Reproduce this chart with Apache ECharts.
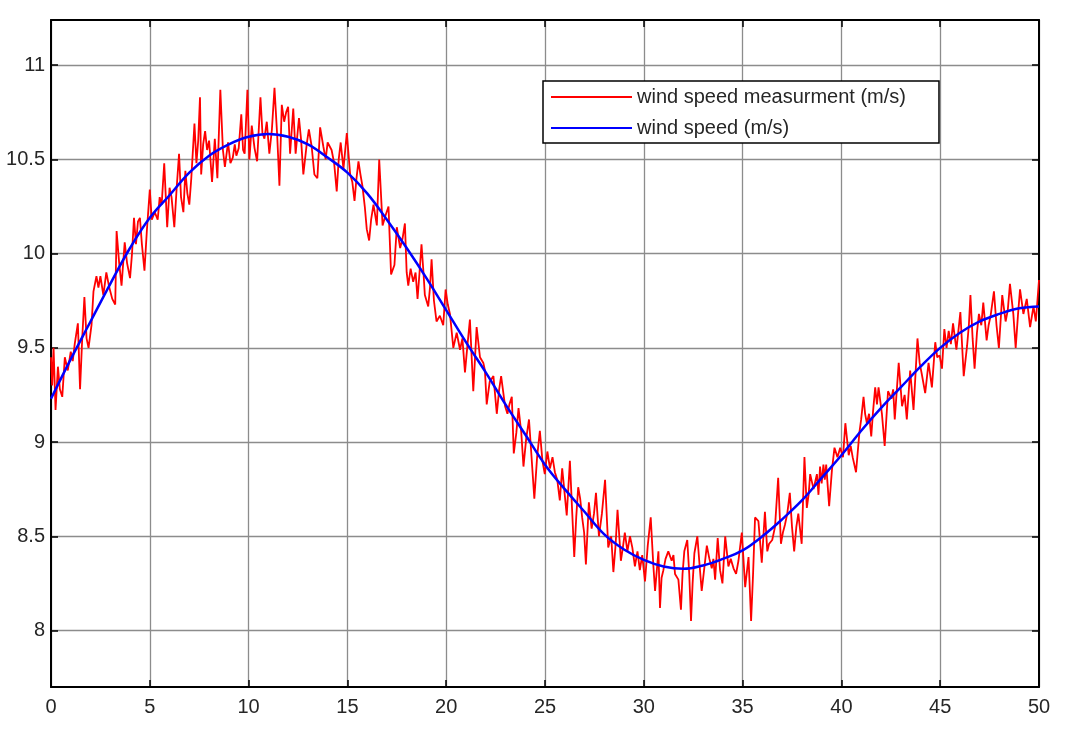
<!DOCTYPE html>
<html>
<head>
<meta charset="utf-8">
<script src="https://cdn.jsdelivr.net/npm/echarts/dist/echarts.min.js"></script>
<style>
  html, body { margin: 0; padding: 0; background: #ffffff; }
  #chart { width: 1080px; height: 731px; }
</style>
</head>
<body>
<div id="chart"></div>
<script>
// ---- data ----
const xTicks = [0, 5, 10, 15, 20, 25, 30, 35, 40, 45, 50];
const yTicks = [8, 8.5, 9, 9.5, 10, 10.5, 11];
const seriesNames = ['wind speed measurment (m/s)', 'wind speed (m/s)'];

// smooth wind speed (blue), sampled at every second
const blueTime = [0,1,2,3,4,5,6,7,8,9,10,11,12,13,14,15,16,17,18,19,20,21,22,23,24,25,
  26,27,28,29,30,31,32,33,34,35,36,37,38,39,40,41,42,43,44,45,46,47,48,49,50];
const blueSpeed = [9.23,9.44,9.64,9.84,10.03,10.19,10.31,10.43,10.52,10.58,10.62,10.635,10.62,
  10.58,10.51,10.43,10.32,10.18,10.03,9.87,9.70,9.53,9.37,9.20,9.04,8.88,8.75,8.63,8.51,8.43,
  8.375,8.34,8.327,8.345,8.38,8.425,8.50,8.59,8.69,8.81,8.93,9.06,9.18,9.29,9.40,9.50,9.58,
  9.64,9.68,9.71,9.72];

const measuredPoints = [
  [0,9.45],[0.06,9.30],[0.13,9.50],[0.23,9.17],[0.35,9.40],[0.45,9.28],[0.57,9.24],[0.7,9.45],[0.85,9.38],[1.0,9.48],
  [1.1,9.43],[1.2,9.52],[1.36,9.63],[1.47,9.28],[1.58,9.55],[1.69,9.77],[1.8,9.55],[1.9,9.50],[2.05,9.62],[2.15,9.80],
  [2.3,9.88],[2.4,9.82],[2.5,9.88],[2.65,9.78],[2.8,9.90],[2.95,9.82],[3.1,9.76],[3.25,9.73],[3.32,10.12],[3.45,9.95],
  [3.57,9.83],[3.73,10.06],[3.85,9.95],[4.0,9.87],[4.1,10.00],[4.2,10.19],[4.3,10.05],[4.4,10.17],[4.5,10.19],[4.6,10.05],
  [4.73,9.91],[4.85,10.12],[5.0,10.34],[5.1,10.18],[5.25,10.22],[5.4,10.18],[5.5,10.30],[5.6,10.26],[5.73,10.48],[5.88,10.14],
  [6.0,10.35],[6.1,10.30],[6.24,10.14],[6.36,10.35],[6.48,10.53],[6.58,10.30],[6.7,10.22],[6.8,10.44],[6.9,10.32],[7.0,10.26],
  [7.1,10.40],[7.26,10.69],[7.36,10.48],[7.45,10.60],[7.54,10.83],[7.6,10.42],[7.7,10.58],[7.8,10.65],[7.9,10.55],[8.0,10.60],
  [8.15,10.38],[8.29,10.61],[8.42,10.40],[8.57,10.87],[8.7,10.55],[8.8,10.46],[8.96,10.59],[9.08,10.48],[9.2,10.51],[9.3,10.58],
  [9.38,10.52],[9.5,10.56],[9.63,10.74],[9.72,10.55],[9.8,10.53],[9.94,10.87],[10.04,10.50],[10.16,10.68],[10.3,10.56],[10.43,10.49],
  [10.6,10.83],[10.7,10.64],[10.8,10.61],[10.92,10.70],[11.05,10.53],[11.18,10.66],[11.31,10.88],[11.45,10.62],[11.56,10.36],[11.68,10.79],
  [11.8,10.70],[11.9,10.75],[12.0,10.78],[12.1,10.53],[12.26,10.77],[12.38,10.53],[12.55,10.72],[12.66,10.60],[12.77,10.42],[12.94,10.58],
  [13.05,10.66],[13.19,10.57],[13.33,10.42],[13.48,10.40],[13.62,10.67],[13.78,10.57],[13.9,10.50],[14.0,10.59],[14.2,10.55],[14.33,10.48],
  [14.46,10.33],[14.56,10.50],[14.66,10.59],[14.8,10.45],[14.97,10.64],[15.14,10.42],[15.25,10.38],[15.36,10.28],[15.46,10.40],[15.56,10.49],
  [15.66,10.42],[15.76,10.36],[15.88,10.25],[15.98,10.13],[16.1,10.07],[16.2,10.18],[16.32,10.26],[16.49,10.15],[16.61,10.50],[16.78,10.15],
  [16.92,10.20],[17.08,10.25],[17.21,9.89],[17.38,9.94],[17.5,10.14],[17.67,10.03],[17.79,10.08],[17.91,10.16],[18.0,9.90],[18.08,9.83],
  [18.2,9.92],[18.33,9.85],[18.45,9.90],[18.55,9.76],[18.65,9.90],[18.75,10.05],[18.85,9.90],[18.92,9.78],[19.09,9.72],[19.18,9.82],
  [19.26,9.97],[19.38,9.75],[19.51,9.64],[19.68,9.67],[19.85,9.62],[19.97,9.81],[20.08,9.73],[20.19,9.68],[20.36,9.50],[20.53,9.58],
  [20.7,9.49],[20.82,9.55],[20.95,9.37],[21.08,9.52],[21.2,9.65],[21.37,9.27],[21.54,9.61],[21.71,9.45],[21.88,9.42],[21.96,9.38],
  [22.05,9.20],[22.2,9.32],[22.39,9.35],[22.56,9.15],[22.68,9.28],[22.78,9.35],[22.98,9.19],[23.1,9.15],[23.2,9.20],[23.32,9.24],
  [23.42,8.94],[23.55,9.05],[23.66,9.18],[23.8,9.05],[23.91,8.87],[24.05,9.02],[24.19,9.12],[24.3,8.95],[24.46,8.70],[24.6,8.92],
  [24.74,9.06],[24.87,8.90],[24.99,8.83],[25.12,8.95],[25.25,8.86],[25.38,8.92],[25.5,8.84],[25.62,8.80],[25.75,8.69],[25.87,8.86],
  [26.0,8.72],[26.1,8.61],[26.26,8.90],[26.38,8.62],[26.48,8.39],[26.58,8.60],[26.68,8.76],[26.78,8.70],[26.88,8.60],[26.98,8.52],
  [27.07,8.35],[27.22,8.68],[27.36,8.54],[27.48,8.62],[27.58,8.73],[27.73,8.50],[27.88,8.62],[28.04,8.80],[28.2,8.44],[28.35,8.50],
  [28.46,8.31],[28.57,8.45],[28.67,8.64],[28.76,8.50],[28.84,8.37],[28.94,8.44],[29.04,8.52],[29.17,8.42],[29.3,8.50],[29.42,8.44],
  [29.55,8.34],[29.68,8.42],[29.8,8.32],[29.92,8.40],[30.06,8.26],[30.2,8.45],[30.35,8.60],[30.48,8.35],[30.57,8.21],[30.74,8.42],
  [30.82,8.12],[30.9,8.28],[30.99,8.32],[31.1,8.38],[31.24,8.42],[31.41,8.37],[31.5,8.40],[31.58,8.30],[31.75,8.27],[31.88,8.11],
  [31.96,8.30],[32.05,8.42],[32.2,8.48],[32.3,8.30],[32.39,8.05],[32.47,8.25],[32.56,8.41],[32.71,8.50],[32.82,8.35],[32.93,8.21],
  [33.05,8.32],[33.19,8.45],[33.32,8.38],[33.44,8.33],[33.52,8.38],[33.61,8.27],[33.74,8.49],[33.86,8.32],[33.98,8.25],[34.12,8.50],
  [34.28,8.34],[34.4,8.38],[34.54,8.33],[34.67,8.30],[34.79,8.37],[34.96,8.52],[35.13,8.23],[35.3,8.39],[35.43,8.05],[35.53,8.30],
  [35.63,8.60],[35.8,8.58],[35.97,8.36],[36.13,8.63],[36.25,8.42],[36.34,8.46],[36.5,8.48],[36.64,8.55],[36.8,8.81],[36.94,8.46],
  [37.04,8.52],[37.14,8.56],[37.26,8.62],[37.39,8.73],[37.5,8.55],[37.61,8.42],[37.72,8.55],[37.82,8.62],[37.99,8.46],[38.13,8.92],
  [38.25,8.65],[38.34,8.72],[38.42,8.83],[38.59,8.75],[38.76,8.83],[38.84,8.72],[38.92,8.87],[39.0,8.78],[39.09,8.88],[39.16,8.80],
  [39.23,8.88],[39.38,8.66],[39.52,8.85],[39.65,8.97],[39.8,8.92],[39.94,8.97],[40.08,8.92],[40.2,9.10],[40.37,8.93],[40.47,8.98],
  [40.57,8.92],[40.74,8.84],[40.91,9.05],[41.0,9.12],[41.12,9.24],[41.2,9.15],[41.29,9.10],[41.4,9.15],[41.51,9.03],[41.6,9.16],
  [41.71,9.29],[41.8,9.20],[41.88,9.29],[42.05,9.15],[42.19,8.98],[42.36,9.27],[42.53,9.23],[42.62,9.28],[42.7,9.12],[42.9,9.42],
  [43.07,9.19],[43.2,9.25],[43.31,9.12],[43.48,9.38],[43.56,9.28],[43.65,9.17],[43.85,9.55],[43.96,9.42],[44.07,9.36],[44.24,9.26],
  [44.41,9.42],[44.58,9.29],[44.75,9.53],[44.85,9.45],[44.97,9.46],[45.09,9.39],[45.21,9.60],[45.32,9.50],[45.43,9.59],[45.54,9.52],
  [45.65,9.63],[45.82,9.49],[46.02,9.69],[46.19,9.35],[46.36,9.51],[46.45,9.62],[46.53,9.78],[46.64,9.55],[46.74,9.39],[46.86,9.58],
  [46.96,9.68],[47.08,9.62],[47.18,9.74],[47.35,9.54],[47.45,9.62],[47.55,9.67],[47.72,9.80],[47.85,9.62],[47.97,9.50],[48.14,9.78],
  [48.31,9.64],[48.42,9.70],[48.53,9.84],[48.7,9.68],[48.82,9.50],[48.94,9.68],[49.04,9.81],[49.21,9.68],[49.38,9.76],[49.55,9.61],
  [49.72,9.72],[49.84,9.64],[50.0,9.86]
];

// ---- chart ----
const FONT = "'Liberation Sans', Arial, Helvetica, sans-serif";
const TEXT_COLOR = '#262626';
const GRID_COLOR = '#8c8c8c';

const blueData = blueTime.map((t, i) => [t, blueSpeed[i]]);

const frameLine = { show: true, onZero: false, lineStyle: { color: '#000', width: 2 } };
const innerTick = { show: true, inside: true, length: 7, lineStyle: { color: '#000', width: 1.5 } };

const chart = echarts.init(document.getElementById('chart'), null, { renderer: 'canvas' });
chart.setOption({
  animation: false,
  backgroundColor: '#ffffff',
  grid: { left: 51, right: 41, top: 20, bottom: 44, outerBoundsMode: 'none' },
  legend: {
    orient: 'vertical',
    left: 543,
    top: 81,
    itemWidth: 81,
    itemHeight: 2,
    itemGap: 11,
    padding: [6, 33, 5, 8],
    borderColor: '#000',
    borderWidth: 1.5,
    backgroundColor: '#ffffff',
    textStyle: { fontSize: 20, color: TEXT_COLOR, fontFamily: FONT },
    data: [
      { name: seriesNames[0], icon: 'rect' },
      { name: seriesNames[1], icon: 'rect' }
    ]
  },
  xAxis: [
    {
      type: 'value', min: xTicks[0], max: xTicks[xTicks.length - 1], interval: 5,
      position: 'bottom',
      axisLine: frameLine,
      axisTick: innerTick,
      axisLabel: { margin: 10, fontSize: 20, color: TEXT_COLOR, fontFamily: FONT },
      splitLine: { show: true, lineStyle: { color: GRID_COLOR, width: 1.3 } }
    },
    {
      type: 'value', min: xTicks[0], max: xTicks[xTicks.length - 1], interval: 5,
      position: 'top',
      axisLine: frameLine,
      axisTick: innerTick,
      axisLabel: { show: false },
      splitLine: { show: false }
    }
  ],
  yAxis: [
    {
      type: 'value', min: 7.7, max: 11.24, splitNumber: 7,
      position: 'left',
      axisLine: frameLine,
      axisTick: Object.assign({}, innerTick, { customValues: yTicks }),
      axisLabel: { customValues: yTicks, margin: 6, fontSize: 20, color: TEXT_COLOR, fontFamily: FONT },
      splitLine: { show: true, lineStyle: { color: GRID_COLOR, width: 1.3 } }
    },
    {
      type: 'value', min: 7.7, max: 11.24, splitNumber: 7,
      position: 'right',
      axisLine: frameLine,
      axisTick: Object.assign({}, innerTick, { customValues: yTicks }),
      axisLabel: { show: false },
      splitLine: { show: false }
    }
  ],
  series: [
    {
      name: seriesNames[0],
      type: 'line',
      xAxisIndex: 0, yAxisIndex: 0,
      data: measuredPoints,
      showSymbol: false,
      symbol: 'none',
      itemStyle: { color: '#ff0000' },
      lineStyle: { color: '#ff0000', width: 1.8 },
      z: 3
    },
    {
      name: seriesNames[1],
      type: 'line',
      xAxisIndex: 0, yAxisIndex: 0,
      data: blueData,
      smooth: 0.4,
      showSymbol: false,
      symbol: 'none',
      itemStyle: { color: '#0000ff' },
      lineStyle: { color: '#0000ff', width: 2.5 },
      z: 4
    }
  ]
});
</script>
</body>
</html>
